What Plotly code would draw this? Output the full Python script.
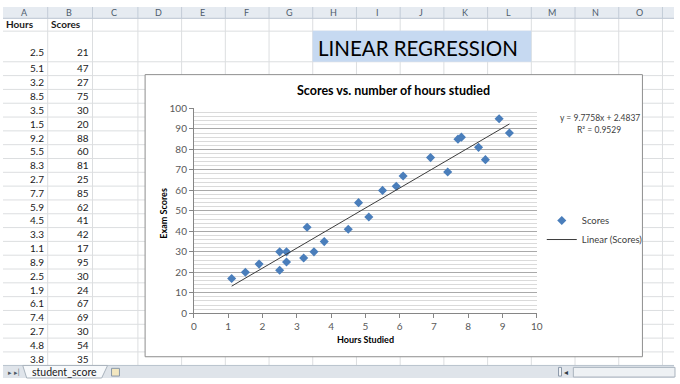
import numpy as np
import plotly.graph_objects as go

# ---------------- data ----------------
hours = [2.5, 5.1, 3.2, 8.5, 3.5, 1.5, 9.2, 5.5, 8.3, 2.7, 7.7, 5.9, 4.5,
         3.3, 1.1, 8.9, 2.5, 1.9, 6.1, 7.4, 2.7, 4.8, 3.8, 6.9, 7.8]
scores = [21, 47, 27, 75, 30, 20, 88, 60, 81, 25, 85, 62, 41,
          42, 17, 95, 30, 24, 67, 69, 30, 54, 35, 76, 86]
visible_rows = 23
col_letters = ["A", "B", "C", "D", "E", "F", "G", "H", "I", "J", "K", "L", "M", "N", "O"]
x_ticks = list(range(0, 11, 1))
y_ticks = list(range(0, 101, 10))
sheet_name = "student_score"
banner_text = "LINEAR REGRESSION"
chart_title = "Scores vs. number of hours studied"

# ---------------- helpers ----------------
W, H = 680, 384
def px(x):
    return x / W
def py(y):
    return 1 - y / H

FONT = "Lato, Open Sans, sans-serif"

slope, intercept = np.polyfit(hours, scores, 1)
h_arr = np.array(hours)
s_arr = np.array(scores)
pred = slope * h_arr + intercept
r2 = 1 - np.sum((s_arr - pred) ** 2) / np.sum((s_arr - s_arr.mean()) ** 2)
trend_x = [min(hours), max(hours)]
trend_y = [slope * v + intercept for v in trend_x]

fig = go.Figure()
fig.add_trace(go.Scatter(
    x=hours, y=scores, mode="markers", name="Scores",
    marker=dict(symbol="diamond", size=7, color="#4a7ebb"),
))
fig.add_trace(go.Scatter(
    x=trend_x, y=trend_y, mode="lines", name="Linear (Scores)",
    line=dict(color="#3c3c3c", width=1),
))

shapes = []
ann = []

# ---- spreadsheet background ----
col_bounds = [45.3, 90.7] + [136.7 + 44.3 * k for k in range(13)]
col_edges = [0] + col_bounds
row_lines = [25, 56.7]
y = 56.7 + 14.3
while y < 371:
    row_lines.append(y)
    y += 14.3

for yl in row_lines:
    shapes.append(dict(type="line", xref="paper", yref="paper", layer="below",
                       x0=0, x1=1, y0=py(yl), y1=py(yl),
                       line=dict(color="#dcdee0", width=1)))
for xb in col_bounds:
    shapes.append(dict(type="line", xref="paper", yref="paper", layer="below",
                       x0=px(xb), x1=px(xb), y0=py(11.7), y1=py(371),
                       line=dict(color="#dcdee0", width=1)))
# header bar
shapes.append(dict(type="rect", xref="paper", yref="paper", layer="below",
                   x0=0, x1=1, y0=py(11.7), y1=1,
                   fillcolor="#e6ebf1", line=dict(width=0)))
shapes.append(dict(type="line", xref="paper", yref="paper", layer="below",
                   x0=0, x1=1, y0=py(11.7), y1=py(11.7),
                   line=dict(color="#b9c4d0", width=1)))
for xb in col_bounds:
    shapes.append(dict(type="line", xref="paper", yref="paper", layer="below",
                       x0=px(xb), x1=px(xb), y0=py(0), y1=py(11.7),
                       line=dict(color="#c3ccd7", width=1)))
for i, letter in enumerate(col_letters):
    cx = (col_edges[i] + col_edges[i + 1]) / 2 - 1
    ann.append(dict(x=px(cx), y=py(5.5), text=letter, showarrow=False,
                    xref="paper", yref="paper", xanchor="center", yanchor="middle",
                    font=dict(family=FONT, size=9, color="#4d5b6c")))

# banner cell
shapes.append(dict(type="rect", xref="paper", yref="paper", layer="below",
                   x0=px(313.8), x1=px(535.3), y0=py(56.7), y1=py(24.5),
                   fillcolor="#c6d9f1", line=dict(width=0)))
ann.append(dict(x=px(317), y=py(42), text=banner_text, showarrow=False,
                xref="paper", yref="paper", xanchor="left", yanchor="middle",
                font=dict(family=FONT, size=20.5, color="#000000")))

# table
ann.append(dict(x=px(1), y=py(18), text="<b>Hours</b>", showarrow=False,
                xref="paper", yref="paper", xanchor="left", yanchor="middle",
                font=dict(family=FONT, size=10, color="#1a1a1a")))
ann.append(dict(x=px(46.5), y=py(18), text="<b>Scores</b>", showarrow=False,
                xref="paper", yref="paper", xanchor="left", yanchor="middle",
                font=dict(family=FONT, size=10, color="#1a1a1a")))
for i in range(visible_rows):
    yc = 47 if i == 0 else 63.6 + 14.3 * (i - 1)
    ann.append(dict(x=px(43.5), y=py(yc), text=f"{hours[i]:g}", showarrow=False,
                    xref="paper", yref="paper", xanchor="right", yanchor="middle",
                    font=dict(family=FONT, size=10, color="#1a1a1a")))
    ann.append(dict(x=px(89.5), y=py(yc), text=f"{scores[i]:g}", showarrow=False,
                    xref="paper", yref="paper", xanchor="right", yanchor="middle",
                    font=dict(family=FONT, size=10, color="#1a1a1a")))

# bottom sheet-tab bar
shapes.append(dict(type="rect", xref="paper", yref="paper", layer="below",
                   x0=0, x1=1, y0=0, y1=py(371),
                   fillcolor="#dfe4ea", line=dict(width=0)))
shapes.append(dict(type="line", xref="paper", yref="paper", layer="below",
                   x0=0, x1=1, y0=py(371), y1=py(371),
                   line=dict(color="#b8c2cc", width=1)))
tab_path = (f"M {px(20)},{py(371)} L {px(24)},{py(384)} L {px(100)},{py(384)} "
            f"L {px(106)},{py(371)} Z")
shapes.append(dict(type="path", xref="paper", yref="paper", layer="below",
                   path=tab_path, fillcolor="#f7f9fb",
                   line=dict(color="#a9b3bd", width=1)))
ann.append(dict(x=px(62), y=py(377.5), text=sheet_name, showarrow=False,
                xref="paper", yref="paper", xanchor="center", yanchor="middle",
                font=dict(family=FONT, size=10.5, color="#1a1a1a")))
ann.append(dict(x=px(3), y=py(377.5), text="▸ ▸|", showarrow=False,
                xref="paper", yref="paper", xanchor="left", yanchor="middle",
                font=dict(family=FONT, size=7, color="#505a66")))
shapes.append(dict(type="rect", xref="paper", yref="paper", layer="below",
                   x0=px(110), x1=px(118), y0=py(382), y1=py(374),
                   fillcolor="#f3e7c0", line=dict(color="#8a98a8", width=1)))
shapes.append(dict(type="rect", xref="paper", yref="paper", layer="below",
                   x0=px(563), x1=px(566), y0=py(382), y1=py(373),
                   fillcolor="#f4f6f8", line=dict(color="#8a98a8", width=1)))
ann.append(dict(x=px(571), y=py(377.5), text="◂", showarrow=False,
                xref="paper", yref="paper", xanchor="center", yanchor="middle",
                font=dict(family=FONT, size=8, color="#303a46")))
shapes.append(dict(type="rect", xref="paper", yref="paper", layer="below",
                   x0=px(578), x1=px(681), y0=py(383), y1=py(373),
                   fillcolor="#eef1f4", line=dict(color="#a9b3bd", width=1)))

# chart area
shapes.append(dict(type="rect", xref="paper", yref="paper", layer="below",
                   x0=px(144), x1=px(648), y0=py(362), y1=py(70),
                   fillcolor="#ffffff", line=dict(color="#8e8e8e", width=1)))

# chart texts
ann.append(dict(x=px(395.5), y=py(86), text=f"<b>{chart_title}</b>", showarrow=False,
                xref="paper", yref="paper", xanchor="center", yanchor="middle",
                font=dict(family=FONT, size=12.5, color="#000000")))
ann.append(dict(x=px(163), y=py(213), text="<b>Exam Scores</b>", showarrow=False,
                xref="paper", yref="paper", xanchor="center", yanchor="middle",
                textangle=-90,
                font=dict(family=FONT, size=9, color="#000000")))
ann.append(dict(x=px(367), y=py(344), text="<b>Hours Studied</b>", showarrow=False,
                xref="paper", yref="paper", xanchor="center", yanchor="middle",
                font=dict(family=FONT, size=9, color="#000000")))
ann.append(dict(x=px(605), y=py(115), text=f"y = {slope:.4f}x + {intercept:.4f}",
                showarrow=False, xref="paper", yref="paper",
                xanchor="center", yanchor="middle",
                font=dict(family=FONT, size=8.5, color="#404040")))
ann.append(dict(x=px(604), y=py(127), text=f"R² = {r2:.4f}",
                showarrow=False, xref="paper", yref="paper",
                xanchor="center", yanchor="middle",
                font=dict(family=FONT, size=8.5, color="#404040")))

fig.update_layout(
    width=W, height=H,
    margin=dict(l=0, r=0, t=0, b=0),
    paper_bgcolor="#ffffff",
    plot_bgcolor="rgba(0,0,0,0)",
    shapes=shapes,
    annotations=ann,
    showlegend=True,
    legend=dict(x=px(546), y=py(206), xanchor="left", yanchor="top",
                font=dict(family=FONT, size=9.5, color="#404040"),
                bgcolor="rgba(0,0,0,0)", itemwidth=30, tracegroupgap=0),
    xaxis=dict(domain=[px(193.5), px(541)], range=[0, 10],
               tickvals=x_ticks, showgrid=False, zeroline=False,
               showline=True, linecolor="#868686", linewidth=1,
               ticks="outside", ticklen=4, tickcolor="#868686",
               tickfont=dict(family=FONT, size=10, color="#595959")),
    yaxis=dict(domain=[py(317), py(105)], range=[0, 100],
               tickvals=y_ticks, showgrid=True, gridcolor="#a9a9a9", gridwidth=1,
               zeroline=False, showline=True, linecolor="#868686", linewidth=1,
               ticks="outside", ticklen=4, tickcolor="#868686",
               minor=dict(dtick=2, showgrid=True, gridcolor="#dadada", gridwidth=1),
               tickfont=dict(family=FONT, size=10, color="#595959")),
)

fig.write_html(
    "out.html",
    config={"displayModeBar": False},
    post_script="document.body.style.margin='0';document.body.style.padding='0';"
                "document.documentElement.style.overflow='hidden';",
)
